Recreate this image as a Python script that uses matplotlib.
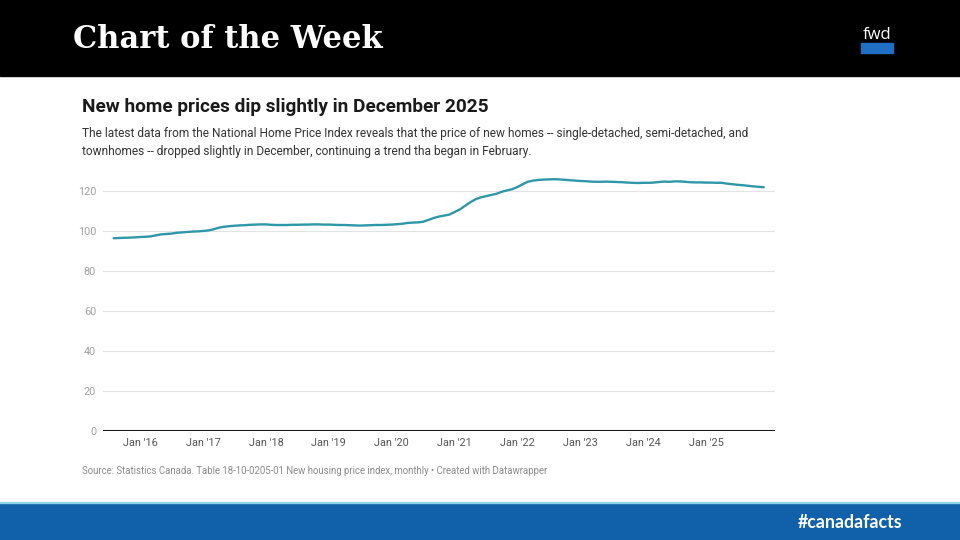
import matplotlib.pyplot as plt
import matplotlib.dates as mdates
import pandas as pd
from matplotlib.patches import Rectangle

# New housing price index, monthly, Aug 2015 - Dec 2025
start_month = "2015-08-01"
vals_2015 = [96.4, 96.5, 96.6, 96.7, 96.8]
vals_2016 = [97.0, 97.1, 97.3, 97.8, 98.3, 98.5, 98.7, 99.1, 99.3, 99.5, 99.7, 99.8]
vals_2017 = [100.0, 100.3, 100.8, 101.6, 102.1, 102.4, 102.6, 102.8, 102.9, 103.1, 103.2, 103.3]
vals_2018 = [103.3, 103.1, 103.0, 103.0, 103.0, 103.1, 103.1, 103.2, 103.2, 103.3, 103.3, 103.2]
vals_2019 = [103.2, 103.1, 103.0, 103.0, 102.9, 102.8, 102.7, 102.8, 102.9, 103.0, 103.0, 103.1]
vals_2020 = [103.2, 103.4, 103.6, 104.0, 104.2, 104.3, 104.6, 105.5, 106.5, 107.2, 107.7, 108.2]
vals_2021 = [109.5, 110.8, 112.5, 114.3, 115.8, 116.8, 117.4, 118.0, 118.6, 119.6, 120.3, 120.9]
vals_2022 = [122.0, 123.4, 124.6, 125.2, 125.5, 125.7, 125.8, 125.9, 125.8, 125.6, 125.4, 125.2]
vals_2023 = [125.0, 124.9, 124.7, 124.6, 124.6, 124.7, 124.6, 124.5, 124.4, 124.2, 124.1, 124.0]
vals_2024 = [124.1, 124.1, 124.2, 124.5, 124.7, 124.6, 124.8, 124.8, 124.6, 124.4, 124.3, 124.3]
vals_2025 = [124.2, 124.2, 124.1, 124.1, 123.7, 123.4, 123.1, 122.9, 122.6, 122.3, 122.1, 121.9]

values = (vals_2015 + vals_2016 + vals_2017 + vals_2018 + vals_2019 + vals_2020
          + vals_2021 + vals_2022 + vals_2023 + vals_2024 + vals_2025)
dates = pd.date_range(start_month, periods=len(values), freq="MS")

tick_years = list(range(2016, 2026))
tick_labels = ["Jan '%02d" % (y % 100) for y in tick_years]
y_ticks = [0, 20, 40, 60, 80, 100, 120]

W, H = 960, 540
fig = plt.figure(figsize=(9.6, 5.4), dpi=100)
fig.patch.set_facecolor("white")

def fx(px):
    return px / W

def fy(py):
    return 1 - py / H

# header band
fig.patches.append(Rectangle((0, fy(76)), 1, 76 / H, transform=fig.transFigure,
                             color="black", zorder=0))
fig.text(fx(73), fy(40), "Chart of the Week", color="white", fontsize=22,
         family="DejaVu Serif", weight="bold", va="center", ha="left")
fig.text(fx(877), fy(35), "fwd", color="white", fontsize=12, family="Open Sans",
         va="center", ha="center")
fig.patches.append(Rectangle((fx(861), fy(53)), 32 / W, 10 / H, transform=fig.transFigure,
                             color="#1f6fc4", zorder=1))

# footer band
fig.patches.append(Rectangle((0, 0), 1, 37 / H, transform=fig.transFigure,
                             color="#1061a9", zorder=0))
fig.patches.append(Rectangle((0, 37 / H), 1, 1.5 / H, transform=fig.transFigure,
                             color="#8fd3e8", zorder=0))
fig.text(fx(902), fy(522), "#canadafacts", color="white", fontsize=12.8,
         family="Lato", weight="bold", va="center", ha="right")

# titles
fig.text(fx(82), fy(107), "New home prices dip slightly in December 2025",
         fontsize=13.7, family="Roboto", weight="bold", color="#1a1a1a",
         va="center", ha="left")
fig.text(fx(82), fy(134),
         "The latest data from the National Home Price Index reveals that the price of new homes -- "
         "single-detached, semi-detached, and",
         fontsize=8.6, family="Roboto", color="#333333", va="center", ha="left")
fig.text(fx(82), fy(151),
         "townhomes -- dropped slightly in December, continuing a trend tha began in February.",
         fontsize=8.6, family="Roboto", color="#333333", va="center", ha="left")
fig.text(fx(82), fy(471),
         "Source: Statistics Canada. Table 18-10-0205-01 New housing price index, monthly \u2022 "
         "Created with Datawrapper",
         fontsize=6.9, family="Roboto", color="#8a8a8a", va="center", ha="left")

# chart
ax = fig.add_axes([fx(103), fy(431), (775 - 103) / W, (431 - 171) / H])
ax.plot(dates, values, color="#2f97aa", lw=1.7, solid_capstyle="round", zorder=3)

jan16 = mdates.date2num(pd.Timestamp("2016-01-01"))
ax.set_xlim(jan16 - (140 - 103) / 62.9 * 365.25, jan16 + (775 - 140) / 62.9 * 365.25)
ax.set_ylim(0, 130)

ax.set_yticks(y_ticks)
ax.set_yticklabels([str(v) for v in y_ticks])
ax.set_xticks([pd.Timestamp("%d-01-01" % y) for y in tick_years])
ax.set_xticklabels(tick_labels)

for v in y_ticks[1:]:
    ax.axhline(v, color="#e3e3e3", lw=0.8, zorder=1)
ax.axhline(0, color="#1a1a1a", lw=1.5, zorder=2)

for s in ax.spines.values():
    s.set_visible(False)
ax.tick_params(axis="y", length=0, pad=5, labelsize=7.8, labelcolor="#a0a0a0")
ax.tick_params(axis="x", length=0, pad=5, labelsize=7.8, labelcolor="#555555")
for lab in ax.get_xticklabels() + ax.get_yticklabels():
    lab.set_family("Roboto")
ax.set_facecolor("white")

fig.savefig("out.png", dpi=100)
